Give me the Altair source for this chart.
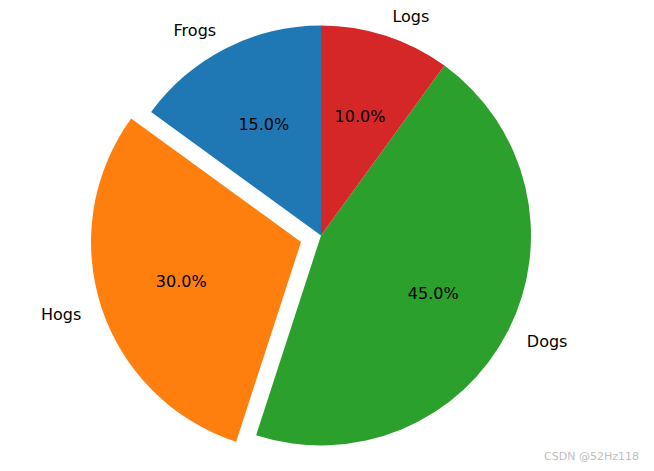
import math
import altair as alt
import pandas as pd

labels = ["Frogs", "Hogs", "Dogs", "Logs"]
sizes = [15, 30, 45, 10]
explode = [0, 0.1, 0, 0]
colors = ["#1f77b4", "#ff7f0e", "#2ca02c", "#d62728"]

CX, CY, R = 313, 227.5, 210

df = pd.DataFrame({"label": labels, "size": sizes, "explode": explode,
                   "idx": list(range(len(labels)))})

base = alt.Chart(df).transform_joinaggregate(
    total="sum(size)"
).transform_window(
    cum="sum(size)", sort=[alt.SortField("idx", order="descending")],
    frame=[None, 0]
).transform_calculate(
    f0="(datum.cum - datum.size) / datum.total",
    f1="datum.cum / datum.total",
).transform_calculate(
    mid="(datum.f0 + datum.f1) * PI",
    pct="datum.size / datum.total * 100",
).transform_calculate(
    px=f"{CX} + datum.explode * {R} * sin(datum.mid)",
    py=f"{CY} - datum.explode * {R} * cos(datum.mid)",
).transform_calculate(
    lx=f"datum.px + 1.1 * {R} * sin(datum.mid)",
    ly=f"datum.py - 1.1 * {R} * cos(datum.mid)",
    tx=f"datum.px + 0.6 * {R} * sin(datum.mid)",
    ty=f"datum.py - 0.6 * {R} * cos(datum.mid)",
    ptxt="format(datum.pct, '.1f') + '%'",
    side="sin(datum.mid) >= 0 ? 'r' : 'l'",
)

arcs = base.mark_arc(radius=R).encode(
    theta=alt.Theta("f0:Q", scale=alt.Scale(domain=[0, 1], range=[0, 2 * math.pi])),
    theta2="f1:Q",
    x=alt.X("px:Q", scale=None),
    y=alt.Y("py:Q", scale=None),
    color=alt.Color("label:N", scale=alt.Scale(domain=labels, range=colors), legend=None),
)

font = "DejaVu Sans"
lab_r = base.transform_filter("datum.side == 'r'").mark_text(
    align="left", baseline="middle", fontSize=16, font=font, color="#000000", dy=1.5
).encode(x=alt.X("lx:Q", scale=None), y=alt.Y("ly:Q", scale=None), text="label:N")

lab_l = base.transform_filter("datum.side == 'l'").mark_text(
    align="right", baseline="middle", fontSize=16, font=font, color="#000000", dy=1.5
).encode(x=alt.X("lx:Q", scale=None), y=alt.Y("ly:Q", scale=None), text="label:N")

pcts = base.mark_text(
    align="center", baseline="middle", fontSize=16, font=font, color="#000000", dy=1.5
).encode(x=alt.X("tx:Q", scale=None), y=alt.Y("ty:Q", scale=None), text="ptxt:N")

wm = alt.Chart(pd.DataFrame({"t": ["CSDN @52Hz118"]})).mark_text(
    align="right", baseline="middle", fontSize=11, font=font, color="#c0c0c0"
).encode(x=alt.value(631), y=alt.value(449), text="t:N")

chart = alt.layer(arcs, lab_r, lab_l, pcts, wm).properties(
    width=638, height=455, autosize=alt.AutoSizeParams(type="none"), padding=0
).configure_view(stroke=None)

chart.save("out.html", embed_options={"renderer": "svg", "actions": False})
